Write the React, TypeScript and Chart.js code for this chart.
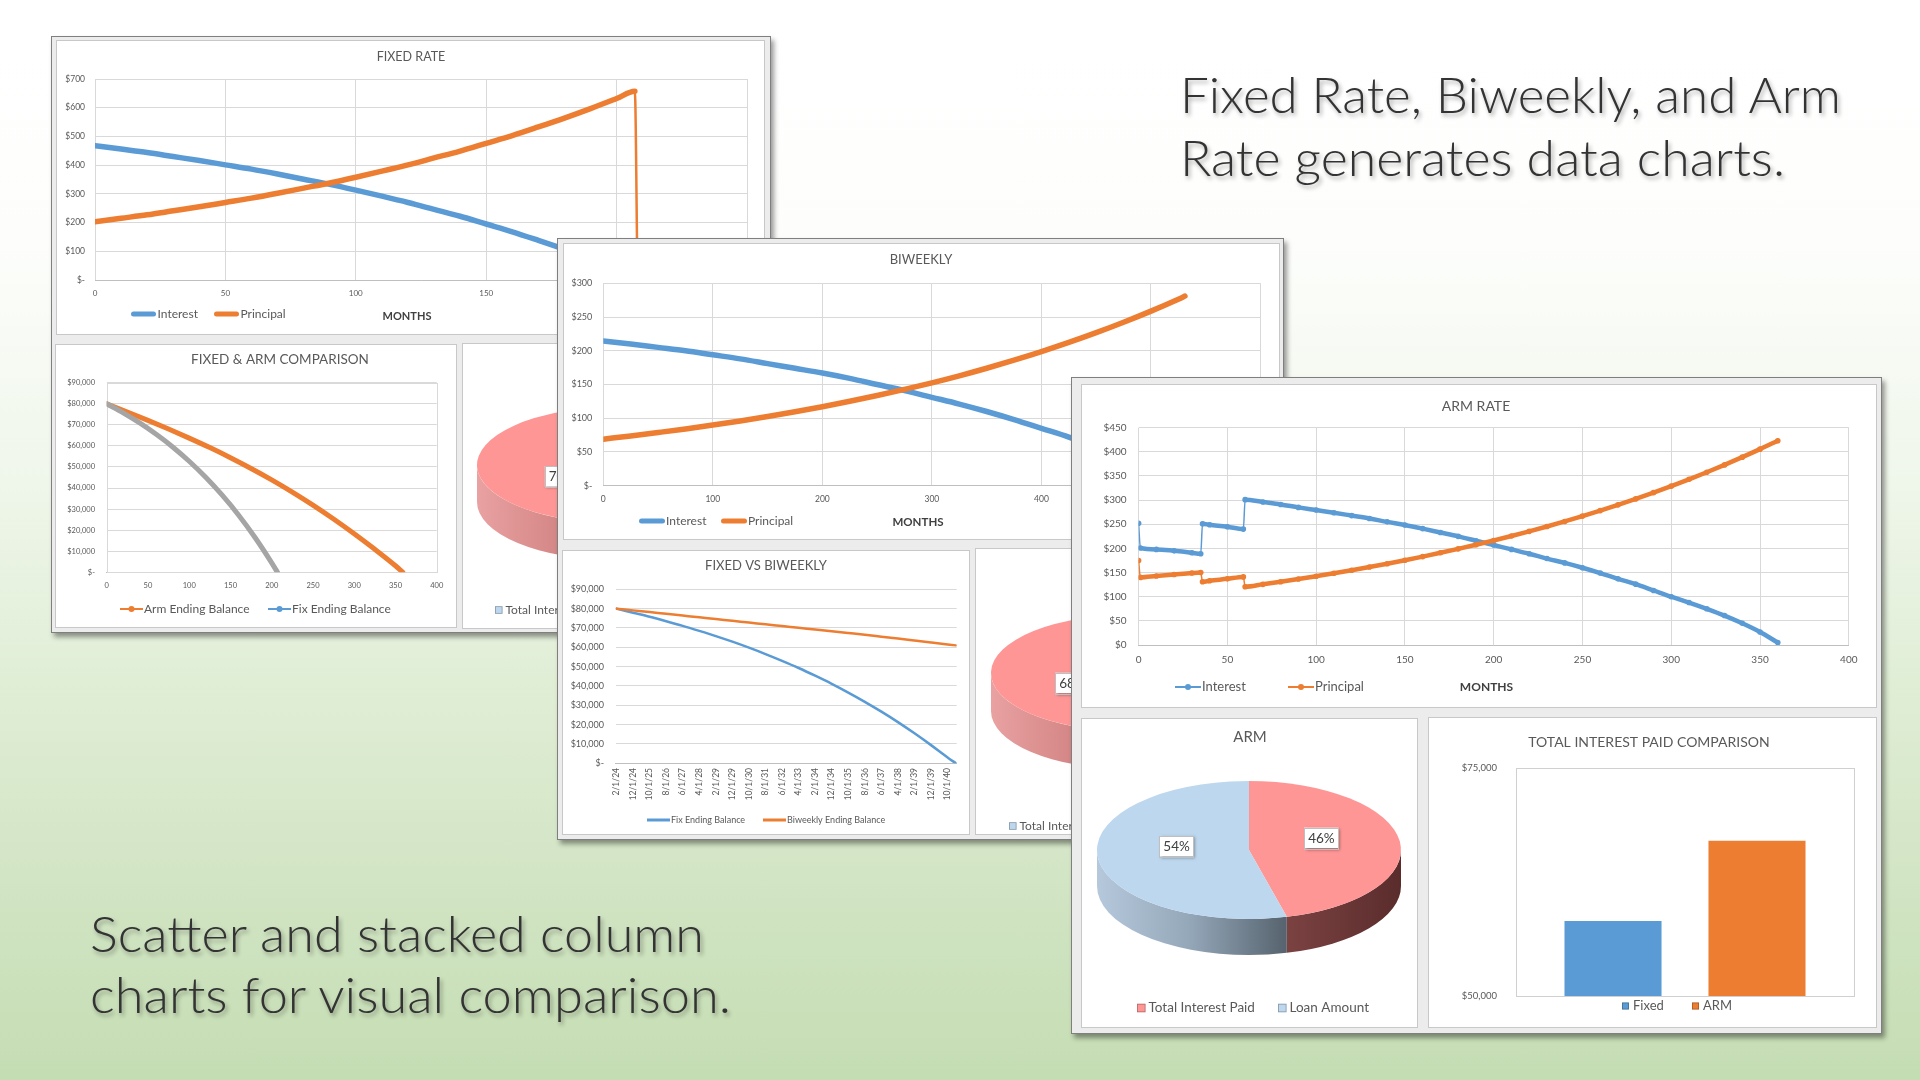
import React, { useEffect, useLayoutEffect, useRef } from 'react';
import { Chart, registerables } from 'chart.js';

Chart.register(...registerables);

const FONT = 'Lato, "Open Sans", sans-serif';
Chart.defaults.font.family = FONT;

const BLUE = '#5B9BD5';
const ORANGE = '#ED7D31';
const GRAY = '#A5A5A5';
const PINK = '#FF9696';
const SKY = '#BDD7EE';
const GRID = '#D9D9D9';
const AXIS = '#BFBFBF';
const TXT = '#595959';

// ---- Fixed rate amortization (monthly) ----
const fixedMonths = [0, 10, 20, 30, 40, 50, 60, 70, 80, 90, 100, 110, 120, 130, 140, 150, 160, 170, 180, 190, 200, 207, 208];
const fixedInterest = [468, 456, 444, 430, 416, 401, 386, 369, 351, 333, 313, 292, 270, 246, 222, 195, 168, 138, 107, 74, 39, 14, 0];
const fixedPrincipal = [203, 215, 227, 241, 255, 270, 285, 302, 320, 338, 358, 379, 401, 425, 449, 476, 503, 533, 564, 597, 632, 657, 0];

// ---- Biweekly schedule (payment periods) ----
const biweeklyPeriods = [0, 25, 50, 75, 100, 125, 150, 175, 200, 225, 250, 275, 300, 325, 350, 375, 400, 425, 450, 475, 500, 525, 531];
const biweeklyInterest = [214.5, 210, 205, 200, 194, 188, 181, 174, 167, 159, 150, 141, 131, 121, 110, 98, 85, 72, 57, 42, 25, 7.5, 2.5];
const biweeklyPrincipal = [69, 73.7, 78.8, 84.1, 89.9, 96, 102.6, 109.6, 117.1, 125.1, 133.6, 142.8, 152.5, 162.9, 174.1, 186, 198.7, 212.3, 226.8, 242.3, 258.8, 276.5, 281];

// ---- ARM schedule (monthly, rate resets at 1, 36 and 60) ----
const armMonths = [0, 1, 10, 20, 30, 35, 36, 40, 50, 59, 60, 70, 80, 90, 100, 110, 120, 130, 140, 150, 160, 170, 180, 190, 200, 210, 220, 230, 240, 250, 260, 270, 280, 290, 300, 310, 320, 330, 340, 350, 360];
const armInterest = [252, 201, 198, 195, 191, 189, 251, 249, 245, 240, 301, 296, 291, 285, 279.5, 274, 268, 262, 255, 248.5, 241, 233, 225, 216, 207, 198, 189, 179, 170, 160, 149, 137, 126, 113, 100, 88, 75, 61, 45, 27, 5];
const armPrincipal = [175, 140, 143, 146, 149, 150, 131, 133, 137, 141, 120.5, 125.6, 131, 136.6, 142.5, 148.5, 154.9, 161.5, 168.4, 175.6, 183.1, 190.9, 199.1, 207.6, 216.5, 225.7, 235.4, 245.4, 255.9, 266.9, 278.3, 290.2, 302.6, 315.5, 329, 343.1, 357.7, 373, 389, 405.6, 423];

// ---- Fixed & ARM ending balances ----
const armBalanceMonths = [0, 25, 50, 75, 100, 125, 150, 175, 200, 225, 250, 275, 300, 325, 350, 359];
const armEndingBalance = [80000, 76100, 72100, 68000, 63700, 59200, 54400, 49300, 43900, 38100, 31900, 25300, 18300, 10900, 3100, 0];
const fixBalanceMonths = [0, 20, 40, 60, 80, 100, 120, 140, 160, 180, 200, 207];
const fixEndingBalance = [80000, 75700, 70900, 65500, 59500, 52700, 45100, 36600, 27100, 16400, 4500, 0];

// ---- Fixed vs Biweekly ending balances (by month since 2/1/24) ----
const fvbDateLabels = ['2/1/24', '12/1/24', '10/1/25', '8/1/26', '6/1/27', '4/1/28', '2/1/29', '12/1/29', '10/1/30', '8/1/31', '6/1/32', '4/1/33', '2/1/34', '12/1/34', '10/1/35', '8/1/36', '6/1/37', '4/1/38', '2/1/39', '12/1/39', '10/1/40'];
const fvbPeriods = [0, 10, 20, 30, 40, 50, 60, 70, 80, 90, 100, 110, 120, 130, 140, 150, 160, 170, 180, 190, 200, 205];
const fvbFixBalance = [80000, 77900, 75800, 73500, 71100, 68500, 65800, 62900, 59800, 56500, 53000, 49300, 45300, 41100, 36600, 31800, 26700, 21300, 15500, 9400, 3000, 0];
const fvbBiweeklyBalance = [80000, 79100, 78200, 77300, 76400, 75500, 74600, 73700, 72800, 71900, 71000, 70100, 69200, 68300, 67400, 66500, 65500, 64500, 63500, 62500, 61500, 61000];

// ---- Totals ----
const totalInterestLabels = ['Fixed', 'ARM'];
const totalInterestValues = [58200, 67000];

const pieLabels = ['Total Interest Paid', 'Loan Amount'];
const fixedPieShares = [30, 70];
const biweeklyPieShares = [32, 68];
const armPieShares = [46, 54];

type Rect = { l: number; t: number; r: number; b: number };

const R: Record<string, Rect> = {
  g1: { l: 51, t: 36, r: 771, b: 633 },
  fixedRate: { l: 56, t: 40, r: 765, b: 335 },
  fixedArm: { l: 55, t: 344, r: 457, b: 628 },
  fixedPie: { l: 462, t: 343, r: 765, b: 629 },
  g2: { l: 557, t: 238, r: 1284, b: 840 },
  biweekly: { l: 563, t: 243, r: 1280, b: 540 },
  fvb: { l: 562, t: 550, r: 970, b: 835 },
  biweeklyPie: { l: 975, t: 548, r: 1280, b: 835 },
  g3: { l: 1071, t: 377, r: 1882, b: 1034 },
  armRate: { l: 1081, t: 384, r: 1877, b: 708 },
  armPie: { l: 1081, t: 718, r: 1418, b: 1028 },
  total: { l: 1428, t: 717, r: 1877, b: 1028 },
};

const dollars = (v: number) => (v === 0 ? '$-' : '$' + v.toLocaleString('en-US'));
const dollarsZero = (v: number) => '$' + v.toLocaleString('en-US');

function drawIcon(ctx: CanvasRenderingContext2D, kind: string, x: number, y: number, w: number, color: string) {
  ctx.save();
  ctx.strokeStyle = color;
  ctx.fillStyle = color;
  if (kind === 'thick') {
    ctx.lineWidth = 5;
    ctx.lineCap = 'round';
    ctx.beginPath();
    ctx.moveTo(x + 2.5, y);
    ctx.lineTo(x + w - 2.5, y);
    ctx.stroke();
  } else if (kind === 'line') {
    ctx.lineWidth = 3;
    ctx.beginPath();
    ctx.moveTo(x, y);
    ctx.lineTo(x + w, y);
    ctx.stroke();
  } else if (kind === 'lineMarker') {
    ctx.lineWidth = 2;
    ctx.beginPath();
    ctx.moveTo(x, y);
    ctx.lineTo(x + w, y);
    ctx.stroke();
    ctx.beginPath();
    ctx.arc(x + w / 2, y, 3, 0, Math.PI * 2);
    ctx.fill();
  } else if (kind === 'square') {
    ctx.fillRect(x, y - w / 2, w, w);
    ctx.strokeStyle = 'rgba(0,0,0,0.3)';
    ctx.lineWidth = 0.8;
    ctx.strokeRect(x + 0.4, y - w / 2 + 0.4, w - 0.8, w - 0.8);
  }
  ctx.restore();
}

function legendEntries(chart: any) {
  const type = chart.config.type;
  if (type === 'pie' || type === 'doughnut') {
    const ds = chart.data.datasets[0];
    return (chart.data.labels || []).map((l: string, i: number) => ({ text: l, color: ds.backgroundColor[i] }));
  }
  return chart.data.datasets.map((ds: any) => ({
    text: ds.label,
    color: ds.legendColor ?? (type === 'bar' ? ds.backgroundColor : ds.borderColor),
  }));
}

// Titles, legend rows and side captions drawn at fixed spots of each panel
const panelText = {
  id: 'panelText',
  afterDraw(chart: any, _args: any, opts: any) {
    const ctx: CanvasRenderingContext2D = chart.ctx;
    const [ox, oy] = opts.origin || [0, 0];
    ctx.save();
    ctx.textBaseline = 'middle';
    if (opts.title) {
      const t = opts.title;
      ctx.font = `${t.size}px ${FONT}`;
      ctx.fillStyle = TXT;
      ctx.textAlign = 'center';
      ctx.fillText(t.text, t.x - ox, t.y - oy);
    }
    if (opts.legend) {
      const L = opts.legend;
      const entries = legendEntries(chart);
      L.xs.forEach((x: number, i: number) => {
        const e = entries[i];
        if (!e) return;
        drawIcon(ctx, L.kind, x - ox, L.y - oy, L.iconW, e.color);
        ctx.font = `${L.size}px ${FONT}`;
        ctx.fillStyle = TXT;
        ctx.textAlign = 'left';
        ctx.fillText(e.text, x - ox + L.iconW + L.gap, L.y - oy);
      });
    }
    if (opts.extra) {
      const t = opts.extra;
      ctx.font = `${t.bold ? 'bold ' : ''}${t.size}px ${FONT}`;
      ctx.fillStyle = '#404040';
      ctx.textAlign = 'center';
      ctx.fillText(t.text, t.x - ox, t.y - oy);
    }
    ctx.restore();
  },
};

// Thin rectangle around the plot area
const plotFrame = {
  id: 'plotFrame',
  beforeDatasetsDraw(chart: any, _args: any, opts: any) {
    if (!opts || !opts.color) return;
    const { left, top, right, bottom } = chart.chartArea;
    const ctx = chart.ctx;
    ctx.save();
    ctx.strokeStyle = opts.color;
    ctx.lineWidth = 1;
    const l = Math.round(left) + 0.5;
    const t = Math.round(top) + 0.5;
    ctx.strokeRect(l, t, Math.round(right) - Math.round(left), Math.round(bottom) - Math.round(top));
    ctx.restore();
  },
};

// Tilted pie with a shaded rim and boxed percentage labels
const pie3d = {
  id: 'pie3d',
  beforeDatasetsDraw(chart: any, _args: any, o: any) {
    const arcs = chart.getDatasetMeta(0).data;
    if (!arcs.length) return;
    const ctx: CanvasRenderingContext2D = chart.ctx;
    const cx = o.cx - o.origin[0];
    const cy = o.cy - o.origin[1];
    const first = arcs[0].getProps(['x', 'y', 'outerRadius'], true);
    arcs.forEach((arc: any, i: number) => {
      const { startAngle: s, endAngle: e } = arc.getProps(['startAngle', 'endAngle'], true);
      const g = ctx.createLinearGradient(cx - o.rx, 0, cx + o.rx, 0);
      o.walls[i].forEach(([p, c]: [number, string]) => g.addColorStop(p, c));
      for (let k = -1; k <= 1; k++) {
        const a = Math.max(s, k * 2 * Math.PI);
        const b = Math.min(e, k * 2 * Math.PI + Math.PI);
        if (b - a <= 1e-6) continue;
        ctx.beginPath();
        ctx.ellipse(cx, cy, o.rx, o.ry, 0, a, b, false);
        ctx.lineTo(cx + o.rx * Math.cos(b), cy + o.ry * Math.sin(b) + o.depth);
        ctx.ellipse(cx, cy + o.depth, o.rx, o.ry, 0, b, a, true);
        ctx.closePath();
        ctx.fillStyle = g;
        ctx.fill();
      }
    });
    ctx.save();
    ctx.translate(cx, cy);
    ctx.scale(o.rx / first.outerRadius, o.ry / first.outerRadius);
    ctx.translate(-first.x, -first.y);
  },
  afterDatasetsDraw(chart: any, _args: any, o: any) {
    const arcs = chart.getDatasetMeta(0).data;
    if (!arcs.length) return;
    const ctx: CanvasRenderingContext2D = chart.ctx;
    ctx.restore();
    const cx = o.cx - o.origin[0];
    const cy = o.cy - o.origin[1];
    const ds = chart.data.datasets[0];
    arcs.forEach((arc: any, i: number) => {
      const { startAngle: s, endAngle: e } = arc.getProps(['startAngle', 'endAngle'], true);
      const m = (s + e) / 2;
      const px = cx + Math.cos(m) * o.rx * o.labelR;
      const py = cy + Math.sin(m) * o.ry * o.labelR - (o.labelLift || 0);
      const text = `${ds.data[i]}%`;
      ctx.font = `${o.labelSize}px ${FONT}`;
      const w = ctx.measureText(text).width + 8;
      const h = o.labelSize + 7;
      ctx.save();
      ctx.shadowColor = 'rgba(0,0,0,0.4)';
      ctx.shadowBlur = 3;
      ctx.shadowOffsetX = 1.5;
      ctx.shadowOffsetY = 1.5;
      ctx.fillStyle = '#fff';
      ctx.fillRect(px - w / 2, py - h / 2, w, h);
      ctx.restore();
      ctx.strokeStyle = '#BFBFBF';
      ctx.lineWidth = 1;
      ctx.strokeRect(Math.round(px - w / 2) + 0.5, Math.round(py - h / 2) + 0.5, Math.round(w), Math.round(h));
      ctx.fillStyle = '#404040';
      ctx.textAlign = 'center';
      ctx.textBaseline = 'middle';
      ctx.fillText(text, px, py + 0.5);
    });
  },
};

function series(label: string, xs: number[], ys: number[], color: string, width: number, extra: any = {}) {
  return {
    label,
    data: xs.map((x, i) => ({ x, y: ys[i] })),
    borderColor: color,
    backgroundColor: color,
    borderWidth: width,
    pointRadius: 0,
    cubicInterpolationMode: 'monotone',
    borderCapStyle: 'round',
    borderJoinStyle: 'round',
    fill: false,
    ...extra,
  };
}

const jumpWidth = (thick: number, thin: number) => ({
  borderWidth: (c: any) => (c.p1.parsed.x - c.p0.parsed.x <= 1 ? thin : thick),
});

function xyChart(o: any) {
  const xAxisH = o.x.axisH ?? 22;
  const { panel, plot } = o;
  return {
    type: 'line',
    data: { datasets: o.datasets },
    options: {
      responsive: false,
      animation: false,
      events: [],
      layout: {
        padding: { left: 0, top: plot.t - panel.t, right: panel.r - plot.r, bottom: panel.b - plot.b - xAxisH },
      },
      scales: {
        x: {
          type: 'linear',
          min: o.x.min,
          max: o.x.max,
          afterFit: (s: any) => {
            s.height = xAxisH;
          },
          grid: { display: o.x.grid, color: GRID, drawTicks: false },
          border: { display: true, color: AXIS },
          ticks: {
            stepSize: o.x.step,
            includeBounds: false,
            autoSkip: false,
            minRotation: o.x.rot ?? 0,
            maxRotation: o.x.rot ?? 0,
            padding: o.x.pad,
            color: TXT,
            font: { family: FONT, size: o.x.font },
            callback: o.x.fmt ?? ((v: any) => String(v)),
          },
        },
        y: {
          min: o.y.min,
          max: o.y.max,
          afterFit: (s: any) => {
            s.width = plot.l - panel.l;
          },
          grid: { display: true, color: GRID, drawTicks: false },
          border: { display: false },
          ticks: {
            stepSize: o.y.step,
            padding: o.y.pad,
            color: TXT,
            font: { family: FONT, size: o.y.font },
            callback: (v: any) => o.y.fmt(Number(v)),
          },
        },
      },
      plugins: {
        legend: { display: false },
        tooltip: { enabled: false },
        title: { display: false },
        plotFrame: { color: o.frame ? GRID : null },
        panelText: o.text,
      },
    },
    plugins: [plotFrame, panelText],
  };
}

const fixedRateConfig = () =>
  xyChart({
    panel: R.fixedRate,
    plot: { l: 95, t: 79, r: 747, b: 280 },
    datasets: [
      series('Interest', fixedMonths, fixedInterest, BLUE, 5.5, { order: 1 }),
      series('Principal', fixedMonths, fixedPrincipal, ORANGE, 5.5, { order: 0, segment: jumpWidth(5.5, 2.5) }),
    ],
    x: { min: 0, max: 250, step: 50, font: 8, pad: 8.5, grid: true, axisH: 20 },
    y: { min: 0, max: 700, step: 100, font: 8.5, pad: 10, fmt: dollars },
    text: {
      origin: [R.fixedRate.l, R.fixedRate.t],
      title: { text: 'FIXED RATE', x: 411, y: 57, size: 12.5 },
      legend: { y: 314, size: 12, kind: 'thick', iconW: 25, gap: 1.5, xs: [131, 214] },
      extra: { text: 'MONTHS', x: 407, y: 316, size: 11, bold: true },
    },
  });

const fixedArmConfig = () =>
  xyChart({
    panel: R.fixedArm,
    plot: { l: 106.7, t: 382.7, r: 436.7, b: 572.3 },
    datasets: [
      series('Arm Ending Balance', armBalanceMonths, armEndingBalance, ORANGE, 5, { order: 1 }),
      series('Fix Ending Balance', fixBalanceMonths, fixEndingBalance, GRAY, 5, { order: 0, legendColor: BLUE }),
    ],
    x: { min: 0, max: 400, step: 50, font: 7.5, pad: 8.9, grid: false, axisH: 20 },
    y: { min: 0, max: 90000, step: 10000, font: 7.5, pad: 11.7, fmt: dollars },
    frame: true,
    text: {
      origin: [R.fixedArm.l, R.fixedArm.t],
      title: { text: 'FIXED & ARM COMPARISON', x: 280, y: 360, size: 13.5 },
      legend: { y: 609, size: 12, kind: 'lineMarker', iconW: 23, gap: 1, xs: [120, 268] },
    },
  });

const biweeklyConfig = () =>
  xyChart({
    panel: R.biweekly,
    plot: { l: 603.3, t: 283.3, r: 1260.5, b: 485.7 },
    datasets: [
      series('Interest', biweeklyPeriods, biweeklyInterest, BLUE, 5.5, { order: 1 }),
      series('Principal', biweeklyPeriods, biweeklyPrincipal, ORANGE, 5.5, { order: 0 }),
    ],
    x: { min: 0, max: 600, step: 100, font: 8.5, pad: 8.5, grid: true, axisH: 20 },
    y: { min: 0, max: 300, step: 50, font: 9, pad: 11, fmt: dollars },
    text: {
      origin: [R.biweekly.l, R.biweekly.t],
      title: { text: 'BIWEEKLY', x: 921, y: 260, size: 13 },
      legend: { y: 521, size: 12, kind: 'thick', iconW: 26, gap: 1, xs: [639, 721] },
      extra: { text: 'MONTHS', x: 918, y: 522, size: 11.5, bold: true },
    },
  });

const fvbConfig = () =>
  xyChart({
    panel: R.fvb,
    plot: { l: 615.7, t: 589.3, r: 956.7, b: 763.3 },
    datasets: [
      series('Fix Ending Balance', fvbPeriods, fvbFixBalance, BLUE, 2.5, { order: 1 }),
      series('Biweekly Ending Balance', fvbPeriods, fvbBiweeklyBalance, ORANGE, 2.5, { order: 0 }),
    ],
    x: {
      min: -0.5,
      max: 205.5,
      step: 10,
      font: 8.5,
      pad: 4.7,
      grid: false,
      rot: 90,
      axisH: 45,
      fmt: (v: any) => fvbDateLabels[Math.round(Number(v) / 10)] ?? '',
    },
    y: { min: 0, max: 90000, step: 10000, font: 9, pad: 11.7, fmt: dollars },
    text: {
      origin: [R.fvb.l, R.fvb.t],
      title: { text: 'FIXED VS BIWEEKLY', x: 766, y: 566, size: 13 },
      legend: { y: 820, size: 9, kind: 'line', iconW: 23, gap: 1, xs: [647, 763] },
    },
  });

const armMarker = (color: string) => ({ pointRadius: 2.8, pointBorderWidth: 0, pointBackgroundColor: color });

const armRateConfig = () =>
  xyChart({
    panel: R.armRate,
    plot: { l: 1138.6, t: 427.7, r: 1848.8, b: 645 },
    datasets: [
      series('Interest', armMonths, armInterest, BLUE, 4.5, { order: 1, ...armMarker(BLUE), segment: jumpWidth(4.5, 1.5) }),
      series('Principal', armMonths, armPrincipal, ORANGE, 4.5, { order: 0, ...armMarker(ORANGE), segment: jumpWidth(4.5, 1.5) }),
    ],
    x: { min: 0, max: 400, step: 50, font: 10, pad: 8.3, grid: true, axisH: 22 },
    y: { min: 0, max: 450, step: 50, font: 10, pad: 12, fmt: dollarsZero },
    text: {
      origin: [R.armRate.l, R.armRate.t],
      title: { text: 'ARM RATE', x: 1476, y: 406, size: 14 },
      legend: { y: 687, size: 13, kind: 'lineMarker', iconW: 26, gap: 1, xs: [1175, 1288] },
      extra: { text: 'MONTHS', x: 1486.5, y: 687, size: 12, bold: true },
    },
  });

const totalConfig = () => {
  const panel = R.total;
  const plot = { l: 1516, t: 767.7, r: 1854, b: 996 };
  return {
    type: 'bar',
    data: {
      labels: [''],
      datasets: totalInterestLabels.map((label, i) => ({
        label,
        data: [totalInterestValues[i]],
        backgroundColor: [BLUE, ORANGE][i],
        borderWidth: 0,
        categoryPercentage: 0.852,
        barPercentage: 0.674,
      })),
    },
    options: {
      responsive: false,
      animation: false,
      events: [],
      layout: { padding: { left: 0, top: plot.t - panel.t, right: panel.r - plot.r, bottom: panel.b - plot.b } },
      scales: {
        x: { display: false },
        y: {
          min: 50000,
          max: 75000,
          afterFit: (s: any) => {
            s.width = plot.l - panel.l;
          },
          grid: { display: false },
          border: { display: false },
          ticks: {
            stepSize: 25000,
            padding: 11,
            color: TXT,
            font: { family: FONT, size: 9.5 },
            callback: (v: any) => dollarsZero(Number(v)),
          },
        },
      },
      plugins: {
        legend: { display: false },
        tooltip: { enabled: false },
        plotFrame: { color: '#D0D0D0' },
        panelText: {
          origin: [panel.l, panel.t],
          title: { text: 'TOTAL INTEREST PAID COMPARISON', x: 1649, y: 742, size: 14 },
          legend: { y: 1006, size: 13, kind: 'square', iconW: 7, gap: 4, xs: [1622, 1692] },
        },
      },
    },
    plugins: [plotFrame, panelText],
  };
};

const pinkWall = [
  [0, '#E9A1A1'],
  [0.3, '#D48686'],
  [0.62, '#7C4242'],
  [1, '#5A2C2C'],
];
const skyWall = [
  [0, '#B6C9DC'],
  [0.3, '#95A8BA'],
  [0.62, '#57646F'],
  [1, '#3B4651'],
];

function pieConfig(panel: Rect, shares: number[], colors: string[], walls: any[], geo: any, text: any) {
  return {
    type: 'pie',
    data: {
      labels: pieLabels,
      datasets: [{ data: shares, backgroundColor: colors, borderWidth: 0 }],
    },
    options: {
      responsive: false,
      animation: false,
      events: [],
      layout: { padding: 10 },
      plugins: {
        legend: { display: false },
        tooltip: { enabled: false },
        pie3d: { origin: [panel.l, panel.t], walls, labelR: 0.48, labelSize: 13.5, labelLift: 8, ...geo },
        panelText: { origin: [panel.l, panel.t], ...text },
      },
    },
    plugins: [pie3d, panelText],
  };
}

const armPieConfig = () =>
  pieConfig(R.armPie, armPieShares, [PINK, SKY], [pinkWall, skyWall], { cx: 1249, cy: 850, rx: 152, ry: 69, depth: 36 }, {
    title: { text: 'ARM', x: 1250, y: 737, size: 15 },
    legend: { y: 1008, size: 13.5, kind: 'square', iconW: 8.5, gap: 3, xs: [1137, 1278] },
  });

const fixedPieConfig = () =>
  pieConfig(R.fixedPie, fixedPieShares, [SKY, PINK], [skyWall, pinkWall], { cx: 616, cy: 465, rx: 139, ry: 58, depth: 37, labelLift: 5 }, {
    legend: { y: 610, size: 12, kind: 'square', iconW: 7.5, gap: 3, xs: [495, 636] },
  });

const biweeklyPieConfig = () =>
  pieConfig(R.biweeklyPie, biweeklyPieShares, [SKY, PINK], [skyWall, pinkWall], { cx: 1128, cy: 673, rx: 137, ry: 58, depth: 38, labelLift: 5 }, {
    legend: { y: 826, size: 12, kind: 'square', iconW: 7.5, gap: 3, xs: [1009, 1150] },
  });

function ChartPanel({ rect, build }: { rect: Rect; build: () => any }) {
  const ref = useRef<HTMLCanvasElement>(null);
  const w = Math.round(rect.r - rect.l);
  const h = Math.round(rect.b - rect.t);
  useEffect(() => {
    if (!ref.current) return;
    const chart = new Chart(ref.current, build());
    return () => chart.destroy();
  }, [build]);
  return (
    <div
      style={{
        position: 'absolute',
        left: rect.l,
        top: rect.t,
        width: w,
        height: h,
        background: '#fff',
        boxShadow: 'inset 0 0 0 1px #C8C8C8',
      }}
    >
      <canvas ref={ref} width={w} height={h} style={{ display: 'block' }} />
    </div>
  );
}

function Frame({ rect }: { rect: Rect }) {
  return (
    <div
      style={{
        position: 'absolute',
        left: rect.l,
        top: rect.t,
        width: rect.r - rect.l,
        height: rect.b - rect.t,
        boxSizing: 'border-box',
        background: '#ECECEC',
        border: '1.5px solid #7F7F7F',
        boxShadow: '3px 4px 5px rgba(0,0,0,0.4)',
      }}
    />
  );
}

const SLIDE_SIZE = 50;

function SlideLine({ text, left, baseline, width }: { text: string; left: number; baseline: number; width: number }) {
  const ref = useRef<HTMLDivElement>(null);
  useLayoutEffect(() => {
    const el = ref.current;
    if (!el) return;
    const fit = () => {
      el.style.transform = 'none';
      const w = el.getBoundingClientRect().width;
      if (w > 0) el.style.transform = `scaleX(${width / w})`;
    };
    fit();
    (document as any).fonts?.ready?.then(fit);
  }, [text, width]);
  return (
    <div
      ref={ref}
      style={{
        position: 'absolute',
        left,
        top: baseline - 0.887 * SLIDE_SIZE,
        fontSize: SLIDE_SIZE,
        fontWeight: 300,
        lineHeight: `${SLIDE_SIZE}px`,
        fontFamily: FONT,
        color: '#333333',
        whiteSpace: 'nowrap',
        transformOrigin: '0 0',
        textShadow: '2px 3px 4px rgba(0,0,0,0.32)',
      }}
    >
      {text}
    </div>
  );
}

export default function App() {
  return (
    <div
      style={{
        position: 'absolute',
        left: 0,
        top: 0,
        width: 1920,
        height: 1080,
        overflow: 'hidden',
        background:
          'linear-gradient(180deg, #ffffff 0%, #fdfefc 22%, #eff6ea 45%, #dfedd4 65%, #cfe3c1 85%, #c5ddb3 100%)',
      }}
    >
      <SlideLine text="Fixed Rate, Biweekly, and Arm" left={1180} baseline={113} width={661} />
      <SlideLine text="Rate generates data charts." left={1180} baseline={176.7} width={605} />
      <SlideLine text="Scatter and stacked column" left={90} baseline={952} width={614} />
      <SlideLine text="charts for visual comparison." left={90} baseline={1013} width={641} />

      <Frame rect={R.g1} />
      <ChartPanel rect={R.fixedRate} build={fixedRateConfig} />
      <ChartPanel rect={R.fixedArm} build={fixedArmConfig} />
      <ChartPanel rect={R.fixedPie} build={fixedPieConfig} />

      <Frame rect={R.g2} />
      <ChartPanel rect={R.biweekly} build={biweeklyConfig} />
      <ChartPanel rect={R.fvb} build={fvbConfig} />
      <ChartPanel rect={R.biweeklyPie} build={biweeklyPieConfig} />

      <Frame rect={R.g3} />
      <ChartPanel rect={R.armRate} build={armRateConfig} />
      <ChartPanel rect={R.armPie} build={armPieConfig} />
      <ChartPanel rect={R.total} build={totalConfig} />
    </div>
  );
}
